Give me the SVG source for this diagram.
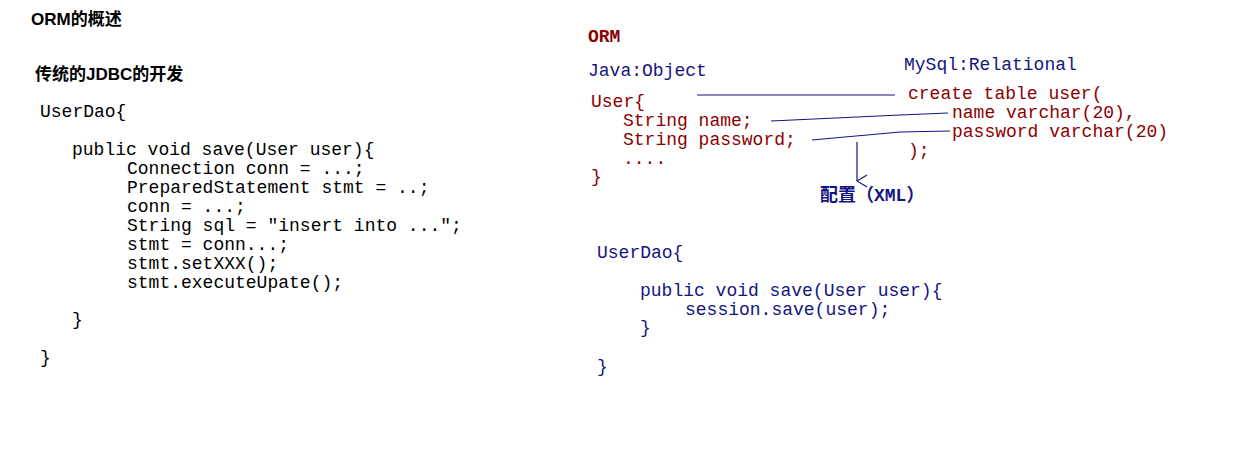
<svg xmlns="http://www.w3.org/2000/svg" width="1256" height="467" viewBox="0 0 1256 467">
<style>
text{font-family:"Liberation Mono","Noto Sans CJK SC",monospace;font-size:18px}
.t{font-family:"Liberation Sans","Noto Sans CJK SC",sans-serif;font-weight:bold;font-size:17px;fill:#000}
.k{fill:#000}.r{fill:#8b0000}.b{fill:#141480}
.ln{stroke:#141480;stroke-width:1.2;fill:none}
</style>
<defs><marker id="v" markerWidth="14" markerHeight="12" refX="7" refY="11" orient="auto" markerUnits="userSpaceOnUse"><path d="M1,1 L7,11 L13,1" fill="none" stroke="#141480" stroke-width="1.2"/></marker></defs>
<rect width="1256" height="467" fill="#fff"/>
<g id="titles">
<text class="t" x="31" y="25">ORM的概述</text>
<text class="t" x="35" y="80">传统的JDBC的开发</text>
</g>
<g id="jdbc" class="k">
<text x="40" y="117">UserDao{</text>
<text x="72" y="155">public void save(User user){</text>
<text x="127" y="174">Connection conn = ...;</text>
<text x="127" y="193">PreparedStatement stmt = ..;</text>
<text x="127" y="212">conn = ...;</text>
<text x="127" y="231">String sql = ″insert into ...″;</text>
<text x="127" y="250">stmt = conn...;</text>
<text x="127" y="269">stmt.setXXX();</text>
<text x="127" y="288">stmt.executeUpate();</text>
<text x="72" y="325">}</text>
<text x="40" y="363">}</text>
</g>
<g id="orm">
<text class="r" x="588" y="42" font-weight="bold">ORM</text>
<text class="b" x="588" y="76">Java:Object</text>
<text class="b" x="904" y="70">MySql:Relational</text>
</g>
<g id="user" class="r">
<text x="591" y="107">User{</text>
<text x="623" y="126">String name;</text>
<text x="623" y="145">String password;</text>
<text x="623" y="164">....</text>
<text x="591" y="182">}</text>
</g>
<g id="table" class="r">
<text x="908" y="99">create table user(</text>
<text x="952" y="118">name varchar(20),</text>
<text x="952" y="137">password varchar(20)</text>
<text x="908" y="156">);</text>
</g>
<g id="config"><text class="b" x="820" y="201" font-weight="bold">配置（XML）</text></g>
<g id="connectors">
<line class="ln" x1="697" y1="95" x2="895" y2="95"/>
<polyline class="ln" points="771,121 900,115 948,113"/>
<polyline class="ln" points="812,140 900,132 950,131"/>
<line class="ln" x1="857" y1="142" x2="857" y2="181" marker-end="url(#v)"/>
</g>
<g id="session" class="b">
<text x="597" y="258">UserDao{</text>
<text x="640" y="296">public void save(User user){</text>
<text x="685" y="315">session.save(user);</text>
<text x="640" y="333">}</text>
<text x="597" y="372">}</text>
</g>
</svg>
